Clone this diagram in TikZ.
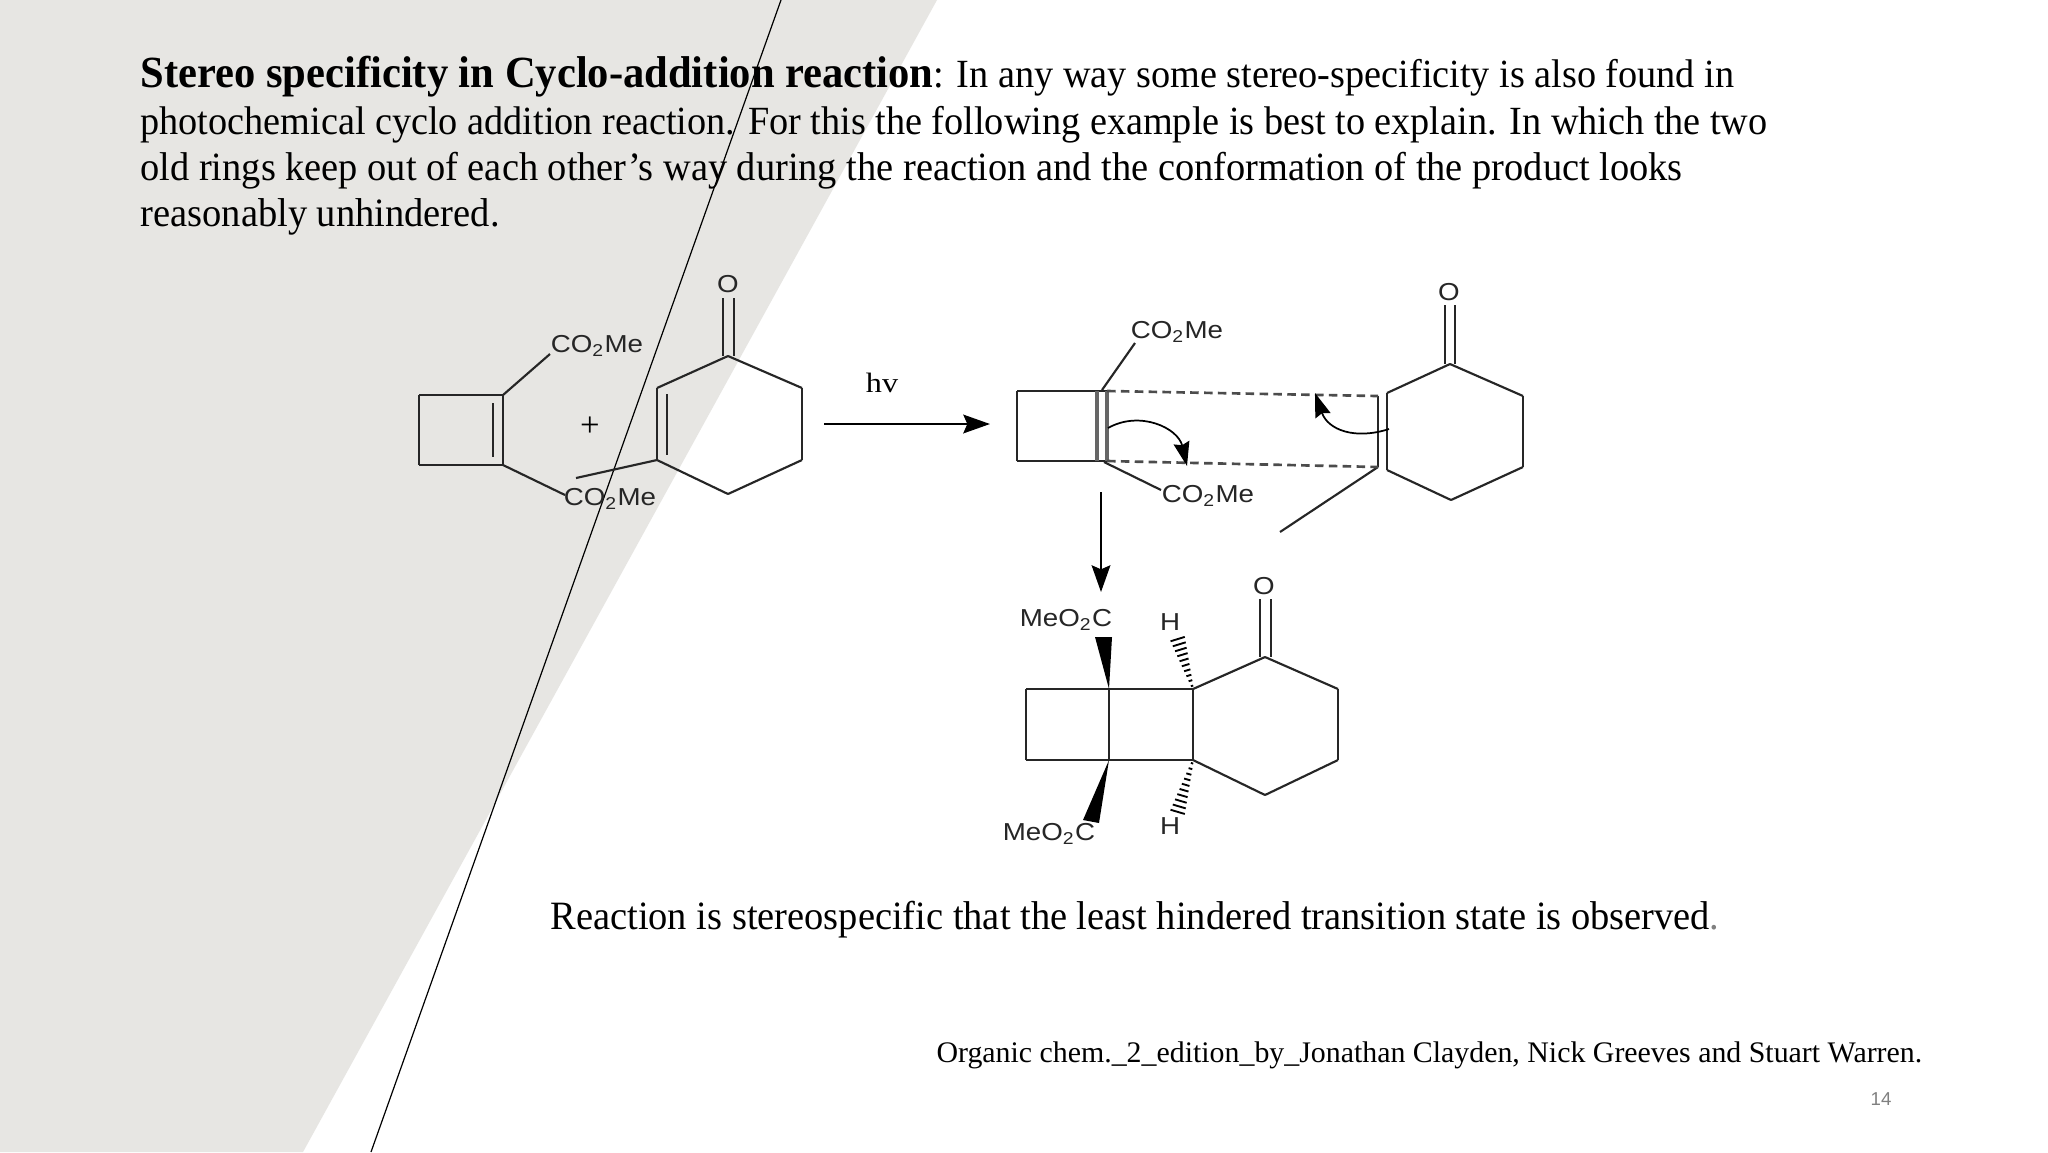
\documentclass[tikz,border=0pt]{standalone}
\usepackage{fontspec}
\setmainfont{Liberation Serif}
\setsansfont{Liberation Sans}
\newfontfamily\slidefont[FakeStretch=0.956]{Liberation Serif}
\newfontfamily\atomfont[FakeStretch=1.13]{Liberation Sans}
\newfontfamily\lightfont[FakeStretch=1.15]{Liberation Serif}
\usetikzlibrary{arrows.meta,calc}
\definecolor{slidegray}{HTML}{E7E6E3}
\tikzset{
  bodyline/.style={anchor=base west,inner sep=0pt,font=\slidefont\fontsize{15}{18}\selectfont},
  citeline/.style={anchor=base west,inner sep=0pt,font=\fontsize{11.2}{13}\selectfont},
  atomlabel/.style={inner sep=0pt,font=\atomfont\fontsize{9.2}{11}\selectfont,text=black!85},
  bigarrow/.style={draw=black,line width=0.9pt,-{Stealth[length=10pt,width=7pt,inset=1.5pt]}},
  turnarrow/.style={draw=black,line width=0.65pt,-{Stealth[length=9pt,width=6pt,inset=1pt]}},
  dashbond/.style={draw=black!70,line width=1pt,dash pattern=on 3.2pt off 2pt},
  graybond/.style={draw=black!60,line width=1.2pt}
}
\newcommand{\hashbond}[2]{%
  \foreach \t in {0.06,0.16,...,1.0} {
    \pgfmathsetmacro{\w}{0.3+2.6*\t}
    \coordinate (hm) at ($(#1)!\t!(#2)$);
    \draw[line width=0.7pt] ($(hm)!\w pt!90:(#2)$) -- ($(hm)!\w pt!-90:(#2)$);
  }}
\begin{document}
\begin{tikzpicture}[x=0.375pt,y=-0.375pt]
  \useasboundingbox (0,0) rectangle (2048,1152);
  \fill[white] (0,0) rectangle (2048,1152);
  \fill[slidegray] (0,0) -- (937,0) -- (303,1152) -- (0,1152) -- cycle;
  \coordinate (slashtop) at (781,0);
  \coordinate (slashbot) at (371,1152);
  \draw[line width=0.45pt] (slashtop) -- (slashbot);
  % slide text
  \begin{scope}[every node/.style={bodyline}]
    \node (titleline) at (140,87) {{\bfseries\fontsize{16.7}{20}\selectfont Stereo specificity in Cyclo-addition reaction}: In any way some stereo-specificity is also found in};
    \node (textb) at (140,134) {photochemical cyclo addition reaction. For this the following example is best to explain. In which the two};
    \node[font=\slidefont\fontsize{15.06}{18}\selectfont] (textc) at (140,180) {old rings keep out of each other’s way during the reaction and the conformation of the product looks};
    \node[font=\slidefont\fontsize{15.1}{18}\selectfont] (textd) at (140,226) {reasonably unhindered.};
    \node[font=\slidefont\fontsize{15.08}{18}\selectfont] (resulttext) at (550,929) {Reaction is stereospecific that the least hindered transition state is observed\textcolor{gray}{.}};
  \end{scope}
  \node[citeline] (citetext) at (936,1062) {Organic chem.\_2\_edition\_by\_Jonathan Clayden, Nick Greeves and Stuart Warren.};
  \node[inner sep=0pt,font=\sffamily\fontsize{7}{8}\selectfont,text=black!50] (pagenum) at (1881,1099) {14};
  % first reactants
  \coordinate (a1) at (419,395);
  \coordinate (a2) at (503,395);
  \coordinate (a3) at (503,465);
  \coordinate (a4) at (419,465);
  \coordinate (a5) at (493,403);
  \coordinate (a6) at (493,457);
  \coordinate (a7) at (550,354);
  \coordinate (a8) at (565,495);
  \coordinate (b1) at (728,356);
  \coordinate (b2) at (802,388);
  \coordinate (b3) at (802,460);
  \coordinate (b4) at (728,494);
  \coordinate (b5) at (657,460);
  \coordinate (b6) at (657,388);
  \coordinate (b7) at (667,394);
  \coordinate (b8) at (667,455);
  \coordinate (b9) at (723,298);
  \coordinate (b10) at (723,356);
  \coordinate (b11) at (734,298);
  \coordinate (b12) at (734,356);
  \coordinate (b13) at (576,478);
  % transition state
  \coordinate (c1) at (1017,391);
  \coordinate (c2) at (1097,391);
  \coordinate (c3) at (1097,461);
  \coordinate (c4) at (1017,461);
  \coordinate (c5) at (1107,391);
  \coordinate (c6) at (1107,461);
  \coordinate (c7) at (1135,343);
  \coordinate (c8) at (1161,490);
  \coordinate (c9) at (1102,390);
  \coordinate (c10) at (1104,462);
  \coordinate (d1) at (1450,364);
  \coordinate (d2) at (1523,396);
  \coordinate (d3) at (1523,467);
  \coordinate (d4) at (1451,500);
  \coordinate (d5) at (1387,470);
  \coordinate (d6) at (1387,393);
  \coordinate (d7) at (1378,396);
  \coordinate (d8) at (1378,467);
  \coordinate (d9) at (1445,305);
  \coordinate (d10) at (1445,364);
  \coordinate (d11) at (1455,305);
  \coordinate (d12) at (1455,364);
  \coordinate (d13) at (1280,532);
  % product
  \coordinate (e1) at (1026,689);
  \coordinate (e2) at (1109,689);
  \coordinate (e3) at (1193,689);
  \coordinate (e4) at (1193,760);
  \coordinate (e5) at (1109,760);
  \coordinate (e6) at (1026,760);
  \coordinate (e7) at (1265,657);
  \coordinate (e8) at (1338,689);
  \coordinate (e9) at (1338,760);
  \coordinate (e10) at (1265,795);
  \coordinate (e11) at (1260,599);
  \coordinate (e12) at (1260,657);
  \coordinate (e13) at (1271,599);
  \coordinate (e14) at (1271,657);
  \coordinate (e15) at (1177,637);
  \coordinate (e16) at (1177,814);
  % atom labels
  \begin{scope}[every node/.style={atomlabel}]
    \node (esterA) at (597,346) {CO\textsubscript{2}Me};
    \node (esterB) at (610,499) {CO\textsubscript{2}Me};
    \node (oxoB) at (728,284) {O};
    \node (esterC) at (1177,332) {CO\textsubscript{2}Me};
    \node (esterD) at (1208,496) {CO\textsubscript{2}Me};
    \node (oxoD) at (1449,292) {O};
    \node (esterE) at (1066,620) {MeO\textsubscript{2}C};
    \node (esterF) at (1049,834) {MeO\textsubscript{2}C};
    \node (oxoE) at (1264,586) {O};
    \node (hydE) at (1170,622) {H};
    \node (hydF) at (1170,826) {H};
  \end{scope}
  \node[inner sep=0pt,font=\fontsize{13}{15}\selectfont] (plus) at (590,427) {+};
  \node[inner sep=0pt,font=\lightfont\fontsize{10.5}{13}\selectfont] (hv) at (882,383) {hv};
  % bonds
  \begin{scope}[every edge/.style={draw=black!85,line width=0.8pt}]
    \path (a1) edge (a2);
    \path (a2) edge (a3);
    \path (a3) edge (a4);
    \path (a4) edge (a1);
    \path (a5) edge (a6);
    \path (a2) edge (a7);
    \path (a3) edge (a8);
    \path (b1) edge (b2);
    \path (b2) edge (b3);
    \path (b3) edge (b4);
    \path (b4) edge (b5);
    \path (b5) edge (b6);
    \path (b6) edge (b1);
    \path (b7) edge (b8);
    \path (b9) edge (b10);
    \path (b11) edge (b12);
    \path (b5) edge (b13);
    \path (c1) edge (c5);
    \path (c6) edge (c4);
    \path (c4) edge (c1);
    \path (c9) edge (c7);
    \path (c10) edge (c8);
    \path (d1) edge (d2);
    \path (d2) edge (d3);
    \path (d3) edge (d4);
    \path (d4) edge (d5);
    \path (d5) edge (d6);
    \path (d6) edge (d1);
    \path (d7) edge (d8);
    \path (d9) edge (d10);
    \path (d11) edge (d12);
    \path (d8) edge (d13);
    \path (e1) edge (e3);
    \path (e3) edge (e4);
    \path (e4) edge (e6);
    \path (e6) edge (e1);
    \path (e2) edge (e5);
    \path (e3) edge (e7);
    \path (e7) edge (e8);
    \path (e8) edge (e9);
    \path (e9) edge (e10);
    \path (e10) edge (e4);
    \path (e11) edge (e12);
    \path (e13) edge (e14);
  \end{scope}
  % partial bonds of the transition state
  \draw[graybond] (c2) -- (c3);
  \draw[graybond] (c5) -- (c6);
  \draw[dashbond] (c5) -- (d7);
  \draw[dashbond] (c6) -- (d8);
  % stereo bonds
  \coordinate (w1) at (1095,637);
  \coordinate (w2) at (1112,637);
  \coordinate (w3) at (1083,820);
  \coordinate (w4) at (1099,823);
  \fill[black] (e2) -- (w1) -- (w2) -- cycle;
  \fill[black] (e5) -- (w3) -- (w4) -- cycle;
  \hashbond{e3}{e15}
  \hashbond{e4}{e16}
  % arrows
  \coordinate (r1) at (824,424);
  \coordinate (r2) at (990,424);
  \coordinate (r3) at (1101,492);
  \coordinate (r4) at (1101,592);
  \coordinate (t1) at (1108,428);
  \coordinate (t2) at (1187,466);
  \coordinate (t3) at (1389,429);
  \coordinate (t4) at (1315,393);
  \draw[bigarrow] (r1) -- (r2);
  \draw[bigarrow] (r3) -- (r4);
  \draw[turnarrow] (t1) .. controls (1140,410) and (1178,428) .. (t2);
  \draw[turnarrow] (t3) .. controls (1355,440) and (1328,430) .. (t4);
\end{tikzpicture}
\end{document}
